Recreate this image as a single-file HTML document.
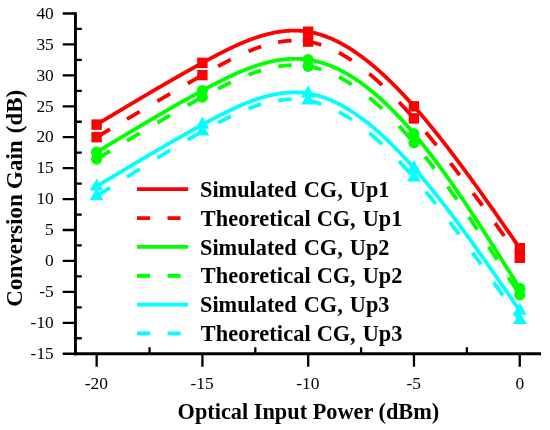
<!DOCTYPE html>
<html><head><meta charset="utf-8"><title>Conversion Gain vs Optical Input Power</title>
<style>html,body{margin:0;padding:0;background:#fff}svg{display:block}</style></head>
<body>
<svg width="550" height="430" viewBox="0 0 550 430">
<rect width="550" height="430" fill="#fff"/>
<path d="M96.60,124.60 L97.31,124.18 L98.01,123.75 L98.72,123.33 L99.43,122.90 L100.13,122.48 L100.84,122.05 L101.55,121.63 L102.25,121.20 L102.96,120.78 L103.67,120.35 L104.37,119.93 L105.08,119.51 L105.78,119.08 L106.49,118.66 L107.20,118.23 L107.90,117.81 L108.61,117.38 L109.32,116.96 L110.02,116.54 L110.73,116.11 L111.44,115.69 L112.14,115.26 L112.85,114.84 L113.56,114.42 L114.26,113.99 L114.97,113.57 L115.68,113.15 L116.38,112.72 L117.09,112.30 L117.80,111.88 L118.50,111.45 L119.21,111.03 L119.91,110.61 L120.62,110.18 L121.33,109.76 L122.03,109.34 L122.74,108.92 L123.45,108.49 L124.15,108.07 L124.86,107.65 L125.57,107.23 L126.27,106.81 L126.98,106.39 L127.69,105.96 L128.39,105.54 L129.10,105.12 L129.81,104.70 L130.51,104.28 L131.22,103.86 L131.93,103.44 L132.63,103.02 L133.34,102.60 L134.05,102.18 L134.75,101.76 L135.46,101.34 L136.16,100.92 L136.87,100.50 L137.58,100.08 L138.28,99.66 L138.99,99.24 L139.70,98.82 L140.40,98.40 L141.11,97.99 L141.82,97.57 L142.52,97.15 L143.23,96.73 L143.94,96.32 L144.64,95.90 L145.35,95.48 L146.06,95.06 L146.76,94.65 L147.47,94.23 L148.18,93.82 L148.88,93.40 L149.59,92.98 L150.29,92.57 L151.00,92.15 L151.71,91.74 L152.41,91.33 L153.12,90.91 L153.83,90.50 L154.53,90.08 L155.24,89.67 L155.95,89.26 L156.65,88.84 L157.36,88.43 L158.07,88.02 L158.77,87.61 L159.48,87.19 L160.19,86.78 L160.89,86.37 L161.60,85.96 L162.31,85.55 L163.01,85.14 L163.72,84.73 L164.43,84.32 L165.13,83.91 L165.84,83.50 L166.54,83.09 L167.25,82.69 L167.96,82.28 L168.66,81.87 L169.37,81.46 L170.08,81.06 L170.78,80.65 L171.49,80.24 L172.20,79.84 L172.90,79.43 L173.61,79.03 L174.32,78.62 L175.02,78.22 L175.73,77.81 L176.44,77.41 L177.14,77.00 L177.85,76.60 L178.56,76.20 L179.26,75.80 L179.97,75.39 L180.67,74.99 L181.38,74.59 L182.09,74.19 L182.79,73.79 L183.50,73.39 L184.21,72.99 L184.91,72.59 L185.62,72.19 L186.33,71.79 L187.03,71.40 L187.74,71.00 L188.45,70.60 L189.15,70.20 L189.86,69.81 L190.57,69.41 L191.27,69.02 L191.98,68.62 L192.69,68.23 L193.39,67.83 L194.10,67.44 L194.81,67.05 L195.51,66.65 L196.22,66.26 L196.92,65.87 L197.63,65.48 L198.34,65.09 L199.04,64.70 L199.75,64.31 L200.46,63.92 L201.16,63.53 L201.87,63.14 L202.58,62.75 L203.28,62.37 L203.99,61.98 L204.70,61.59 L205.40,61.21 L206.11,60.82 L206.82,60.44 L207.52,60.05 L208.23,59.67 L208.94,59.29 L209.64,58.91 L210.35,58.53 L211.05,58.15 L211.76,57.77 L212.47,57.39 L213.17,57.02 L213.88,56.64 L214.59,56.27 L215.29,55.89 L216.00,55.52 L216.71,55.15 L217.41,54.78 L218.12,54.41 L218.83,54.05 L219.53,53.68 L220.24,53.32 L220.95,52.95 L221.65,52.59 L222.36,52.23 L223.07,51.88 L223.77,51.52 L224.48,51.16 L225.18,50.81 L225.89,50.46 L226.60,50.11 L227.30,49.76 L228.01,49.42 L228.72,49.07 L229.42,48.73 L230.13,48.39 L230.84,48.05 L231.54,47.72 L232.25,47.38 L232.96,47.05 L233.66,46.72 L234.37,46.39 L235.08,46.07 L235.78,45.75 L236.49,45.43 L237.20,45.11 L237.90,44.79 L238.61,44.48 L239.32,44.17 L240.02,43.86 L240.73,43.55 L241.43,43.25 L242.14,42.95 L242.85,42.65 L243.55,42.35 L244.26,42.06 L244.97,41.77 L245.67,41.48 L246.38,41.20 L247.09,40.92 L247.79,40.64 L248.50,40.36 L249.21,40.09 L249.91,39.82 L250.62,39.55 L251.33,39.29 L252.03,39.03 L252.74,38.77 L253.45,38.52 L254.15,38.27 L254.86,38.02 L255.56,37.78 L256.27,37.54 L256.98,37.30 L257.68,37.06 L258.39,36.83 L259.10,36.61 L259.80,36.38 L260.51,36.16 L261.22,35.95 L261.92,35.74 L262.63,35.53 L263.34,35.32 L264.04,35.12 L264.75,34.92 L265.46,34.73 L266.16,34.54 L266.87,34.35 L267.58,34.17 L268.28,34.00 L268.99,33.82 L269.70,33.65 L270.40,33.49 L271.11,33.33 L271.81,33.17 L272.52,33.02 L273.23,32.87 L273.93,32.72 L274.64,32.59 L275.35,32.45 L276.05,32.32 L276.76,32.19 L277.47,32.07 L278.17,31.95 L278.88,31.84 L279.59,31.73 L280.29,31.63 L281.00,31.53 L281.71,31.44 L282.41,31.35 L283.12,31.27 L283.83,31.19 L284.53,31.11 L285.24,31.04 L285.94,30.98 L286.65,30.92 L287.36,30.86 L288.06,30.81 L288.77,30.77 L289.48,30.73 L290.18,30.70 L290.89,30.67 L291.60,30.65 L292.30,30.63 L293.01,30.62 L293.72,30.61 L294.42,30.61 L295.13,30.61 L295.84,30.62 L296.54,30.63 L297.25,30.65 L297.96,30.68 L298.66,30.71 L299.37,30.75 L300.08,30.79 L300.78,30.84 L301.49,30.90 L302.19,30.96 L302.90,31.02 L303.61,31.10 L304.31,31.18 L305.02,31.26 L305.73,31.35 L306.43,31.45 L307.14,31.55 L307.85,31.66 L308.55,31.77 L309.26,31.90 L309.97,32.02 L310.67,32.16 L311.38,32.30 L312.09,32.44 L312.79,32.60 L313.50,32.75 L314.21,32.92 L314.91,33.09 L315.62,33.26 L316.32,33.45 L317.03,33.63 L317.74,33.83 L318.44,34.03 L319.15,34.24 L319.86,34.45 L320.56,34.66 L321.27,34.89 L321.98,35.12 L322.68,35.35 L323.39,35.59 L324.10,35.84 L324.80,36.09 L325.51,36.35 L326.22,36.61 L326.92,36.88 L327.63,37.16 L328.34,37.44 L329.04,37.73 L329.75,38.02 L330.46,38.32 L331.16,38.62 L331.87,38.93 L332.57,39.24 L333.28,39.56 L333.99,39.89 L334.69,40.22 L335.40,40.55 L336.11,40.89 L336.81,41.24 L337.52,41.59 L338.23,41.95 L338.93,42.31 L339.64,42.68 L340.35,43.05 L341.05,43.43 L341.76,43.81 L342.47,44.20 L343.17,44.59 L343.88,44.99 L344.59,45.40 L345.29,45.81 L346.00,46.22 L346.70,46.64 L347.41,47.06 L348.12,47.49 L348.82,47.93 L349.53,48.36 L350.24,48.81 L350.94,49.26 L351.65,49.71 L352.36,50.17 L353.06,50.63 L353.77,51.10 L354.48,51.57 L355.18,52.05 L355.89,52.53 L356.60,53.02 L357.30,53.51 L358.01,54.01 L358.72,54.51 L359.42,55.02 L360.13,55.53 L360.84,56.04 L361.54,56.56 L362.25,57.09 L362.95,57.62 L363.66,58.15 L364.37,58.69 L365.07,59.23 L365.78,59.78 L366.49,60.33 L367.19,60.89 L367.90,61.45 L368.61,62.01 L369.31,62.58 L370.02,63.15 L370.73,63.73 L371.43,64.31 L372.14,64.90 L372.85,65.49 L373.55,66.08 L374.26,66.68 L374.97,67.28 L375.67,67.89 L376.38,68.50 L377.08,69.12 L377.79,69.74 L378.50,70.36 L379.20,70.99 L379.91,71.62 L380.62,72.25 L381.32,72.89 L382.03,73.54 L382.74,74.18 L383.44,74.83 L384.15,75.49 L384.86,76.15 L385.56,76.81 L386.27,77.48 L386.98,78.15 L387.68,78.82 L388.39,79.50 L389.10,80.18 L389.80,80.87 L390.51,81.56 L391.22,82.25 L391.92,82.94 L392.63,83.64 L393.33,84.35 L394.04,85.05 L394.75,85.76 L395.45,86.48 L396.16,87.20 L396.87,87.92 L397.57,88.64 L398.28,89.37 L398.99,90.10 L399.69,90.84 L400.40,91.57 L401.11,92.32 L401.81,93.06 L402.52,93.81 L403.23,94.56 L403.93,95.32 L404.64,96.07 L405.35,96.83 L406.05,97.60 L406.76,98.37 L407.46,99.14 L408.17,99.91 L408.88,100.69 L409.58,101.47 L410.29,102.25 L411.00,103.04 L411.70,103.83 L412.41,104.62 L413.12,105.42 L413.82,106.21 L414.53,107.01 L415.24,107.82 L415.94,108.63 L416.65,109.44 L417.36,110.25 L418.06,111.06 L418.77,111.88 L419.48,112.70 L420.18,113.53 L420.89,114.35 L421.59,115.18 L422.30,116.02 L423.01,116.85 L423.71,117.69 L424.42,118.53 L425.13,119.37 L425.83,120.22 L426.54,121.06 L427.25,121.92 L427.95,122.77 L428.66,123.62 L429.37,124.48 L430.07,125.34 L430.78,126.21 L431.49,127.07 L432.19,127.94 L432.90,128.81 L433.61,129.68 L434.31,130.56 L435.02,131.44 L435.73,132.32 L436.43,133.20 L437.14,134.09 L437.84,134.97 L438.55,135.86 L439.26,136.75 L439.96,137.65 L440.67,138.54 L441.38,139.44 L442.08,140.34 L442.79,141.24 L443.50,142.15 L444.20,143.06 L444.91,143.97 L445.62,144.88 L446.32,145.79 L447.03,146.70 L447.74,147.62 L448.44,148.54 L449.15,149.46 L449.86,150.38 L450.56,151.31 L451.27,152.24 L451.97,153.17 L452.68,154.10 L453.39,155.03 L454.09,155.96 L454.80,156.90 L455.51,157.84 L456.21,158.78 L456.92,159.72 L457.63,160.66 L458.33,161.61 L459.04,162.55 L459.75,163.50 L460.45,164.45 L461.16,165.40 L461.87,166.36 L462.57,167.31 L463.28,168.27 L463.99,169.23 L464.69,170.19 L465.40,171.15 L466.11,172.11 L466.81,173.08 L467.52,174.04 L468.22,175.01 L468.93,175.98 L469.64,176.95 L470.34,177.92 L471.05,178.89 L471.76,179.86 L472.46,180.84 L473.17,181.82 L473.88,182.79 L474.58,183.77 L475.29,184.75 L476.00,185.74 L476.70,186.72 L477.41,187.70 L478.12,188.69 L478.82,189.68 L479.53,190.66 L480.24,191.65 L480.94,192.64 L481.65,193.63 L482.35,194.62 L483.06,195.62 L483.77,196.61 L484.47,197.61 L485.18,198.60 L485.89,199.60 L486.59,200.60 L487.30,201.60 L488.01,202.60 L488.71,203.60 L489.42,204.60 L490.13,205.60 L490.83,206.60 L491.54,207.61 L492.25,208.61 L492.95,209.62 L493.66,210.62 L494.37,211.63 L495.07,212.64 L495.78,213.65 L496.49,214.66 L497.19,215.67 L497.90,216.68 L498.60,217.69 L499.31,218.70 L500.02,219.71 L500.72,220.72 L501.43,221.74 L502.14,222.75 L502.84,223.76 L503.55,224.78 L504.26,225.79 L504.96,226.81 L505.67,227.83 L506.38,228.84 L507.08,229.86 L507.79,230.88 L508.50,231.89 L509.20,232.91 L509.91,233.93 L510.62,234.95 L511.32,235.97 L512.03,236.98 L512.73,238.00 L513.44,239.02 L514.15,240.04 L514.85,241.06 L515.56,242.08 L516.27,243.10 L516.97,244.12 L517.68,245.14 L518.39,246.16 L519.09,247.18 L519.80,248.20" fill="none" stroke="#ff0000" stroke-width="3.8"/>
<path d="M96.60,137.20 L97.31,136.78 L98.01,136.36 L98.72,135.94 L99.43,135.52 L100.13,135.10 L100.84,134.68 L101.55,134.26 L102.25,133.84 L102.96,133.41 L103.67,132.99 L104.37,132.57 L105.08,132.15 L105.78,131.73 L106.49,131.31 L107.20,130.89 L107.90,130.47 L108.61,130.05 L109.32,129.63 L110.02,129.21 M126.98,119.13 L127.69,118.71 L128.39,118.30 L129.10,117.88 L129.81,117.46 L130.51,117.04 L131.22,116.62 L131.93,116.20 L132.63,115.78 L133.34,115.36 L134.05,114.95 L134.75,114.53 L135.46,114.11 L136.16,113.69 L136.87,113.27 L137.58,112.85 L138.28,112.44 L138.99,112.02 L139.70,111.60 M157.36,101.19 L158.07,100.78 L158.77,100.36 L159.48,99.95 L160.19,99.54 L160.89,99.12 L161.60,98.71 L162.31,98.29 L163.01,97.88 L163.72,97.47 L164.43,97.05 L165.13,96.64 L165.84,96.23 L166.54,95.81 L167.25,95.40 L167.96,94.99 L168.66,94.58 L169.37,94.16 L170.08,93.75 M187.74,83.51 L188.45,83.10 L189.15,82.69 L189.86,82.29 L190.57,81.88 L191.27,81.47 L191.98,81.07 L192.69,80.66 L193.39,80.25 L194.10,79.85 L194.81,79.44 L195.51,79.04 L196.22,78.63 L196.92,78.23 L197.63,77.82 L198.34,77.42 L199.04,77.02 L199.75,76.61 L200.46,76.21 M218.12,66.28 L218.83,65.89 L219.53,65.50 L220.24,65.12 L220.95,64.74 L221.65,64.36 L222.36,63.98 L223.07,63.60 L223.77,63.22 L224.48,62.85 L225.18,62.47 L225.89,62.10 L226.60,61.73 L227.30,61.36 L228.01,61.00 L228.72,60.63 L229.42,60.27 L230.13,59.91 L230.84,59.55 M248.50,51.32 L249.21,51.03 L249.91,50.74 L250.62,50.45 L251.33,50.17 L252.03,49.89 L252.74,49.61 L253.45,49.33 L254.15,49.06 L254.86,48.79 L255.56,48.53 L256.27,48.27 L256.98,48.01 L257.68,47.76 L258.39,47.51 L259.10,47.26 L259.80,47.02 L260.51,46.78 L261.22,46.54 M278.17,42.15 L278.88,42.02 L279.59,41.90 L280.29,41.78 L281.00,41.67 L281.71,41.56 L282.41,41.46 L283.12,41.37 L283.83,41.27 L284.53,41.19 L285.24,41.11 L285.94,41.03 L286.65,40.96 L287.36,40.90 L288.06,40.84 L288.77,40.78 L289.48,40.74 L290.18,40.69 L290.89,40.66 L291.60,40.62 M308.55,41.68 L309.26,41.80 L309.97,41.93 L310.67,42.07 L311.38,42.21 L312.09,42.36 L312.79,42.52 L313.50,42.68 L314.21,42.85 L314.91,43.03 L315.62,43.21 L316.32,43.40 L317.03,43.59 L317.74,43.79 L318.44,44.00 L319.15,44.22 L319.86,44.44 L320.56,44.66 L321.27,44.90 M338.93,52.65 L339.64,53.04 L340.35,53.43 L341.05,53.82 L341.76,54.23 L342.47,54.63 L343.17,55.04 L343.88,55.46 L344.59,55.88 L345.29,56.31 L346.00,56.74 L346.70,57.18 L347.41,57.62 L348.12,58.07 L348.82,58.52 L349.53,58.98 L350.24,59.44 L350.94,59.91 L351.65,60.38 M369.31,73.76 L370.02,74.35 L370.73,74.95 L371.43,75.55 L372.14,76.16 L372.85,76.77 L373.55,77.38 L374.26,78.00 L374.97,78.62 L375.67,79.25 L376.38,79.88 L377.08,80.51 L377.79,81.15 L378.50,81.79 L379.20,82.44 L379.91,83.09 L380.62,83.74 L381.32,84.40 L382.03,85.06 M398.99,102.01 L399.69,102.76 L400.40,103.51 L401.11,104.26 L401.81,105.02 L402.52,105.78 L403.23,106.54 L403.93,107.31 L404.64,108.07 L405.35,108.84 L406.05,109.62 L406.76,110.40 L407.46,111.18 L408.17,111.96 L408.88,112.74 L409.58,113.53 L410.29,114.32 L411.00,115.11 M425.83,132.34 L426.54,133.19 L427.25,134.03 L427.95,134.89 L428.66,135.74 L429.37,136.59 L430.07,137.45 L430.78,138.31 L431.49,139.17 L432.19,140.03 L432.90,140.90 L433.61,141.76 L434.31,142.63 L435.02,143.51 L435.73,144.38 L436.43,145.25 M450.56,163.15 L451.27,164.06 L451.97,164.98 L452.68,165.90 L453.39,166.81 L454.09,167.73 L454.80,168.65 L455.51,169.58 L456.21,170.50 L456.92,171.43 L457.63,172.35 L458.33,173.28 L459.04,174.21 L459.75,175.14 M473.17,193.09 L473.88,194.05 L474.58,195.01 L475.29,195.97 L476.00,196.93 L476.70,197.89 L477.41,198.85 L478.12,199.81 L478.82,200.78 L479.53,201.74 L480.24,202.71 L480.94,203.67 L481.65,204.64 L482.35,205.61 M495.07,223.18 L495.78,224.16 L496.49,225.15 L497.19,226.13 L497.90,227.11 L498.60,228.10 L499.31,229.08 L500.02,230.07 L500.72,231.06 L501.43,232.04 L502.14,233.03 L502.84,234.02 L503.55,235.01 L504.26,235.99 M516.97,253.83 L517.68,254.82 L518.39,255.81 L519.09,256.81 L519.80,257.80" fill="none" stroke="#ff0000" stroke-width="3.8"/>
<path d="M96.60,152.20 L97.31,151.77 L98.01,151.35 L98.72,150.92 L99.43,150.49 L100.13,150.07 L100.84,149.64 L101.55,149.22 L102.25,148.79 L102.96,148.36 L103.67,147.94 L104.37,147.51 L105.08,147.08 L105.78,146.66 L106.49,146.23 L107.20,145.81 L107.90,145.38 L108.61,144.95 L109.32,144.53 L110.02,144.10 L110.73,143.68 L111.44,143.25 L112.14,142.83 L112.85,142.40 L113.56,141.98 L114.26,141.55 L114.97,141.13 L115.68,140.70 L116.38,140.28 L117.09,139.85 L117.80,139.43 L118.50,139.00 L119.21,138.58 L119.91,138.15 L120.62,137.73 L121.33,137.30 L122.03,136.88 L122.74,136.46 L123.45,136.03 L124.15,135.61 L124.86,135.19 L125.57,134.76 L126.27,134.34 L126.98,133.92 L127.69,133.49 L128.39,133.07 L129.10,132.65 L129.81,132.23 L130.51,131.81 L131.22,131.38 L131.93,130.96 L132.63,130.54 L133.34,130.12 L134.05,129.70 L134.75,129.28 L135.46,128.86 L136.16,128.44 L136.87,128.02 L137.58,127.60 L138.28,127.18 L138.99,126.76 L139.70,126.34 L140.40,125.92 L141.11,125.50 L141.82,125.08 L142.52,124.66 L143.23,124.25 L143.94,123.83 L144.64,123.41 L145.35,122.99 L146.06,122.58 L146.76,122.16 L147.47,121.74 L148.18,121.33 L148.88,120.91 L149.59,120.50 L150.29,120.08 L151.00,119.67 L151.71,119.25 L152.41,118.84 L153.12,118.42 L153.83,118.01 L154.53,117.60 L155.24,117.18 L155.95,116.77 L156.65,116.36 L157.36,115.95 L158.07,115.54 L158.77,115.12 L159.48,114.71 L160.19,114.30 L160.89,113.89 L161.60,113.48 L162.31,113.07 L163.01,112.66 L163.72,112.25 L164.43,111.85 L165.13,111.44 L165.84,111.03 L166.54,110.62 L167.25,110.22 L167.96,109.81 L168.66,109.40 L169.37,109.00 L170.08,108.59 L170.78,108.19 L171.49,107.78 L172.20,107.38 L172.90,106.98 L173.61,106.57 L174.32,106.17 L175.02,105.77 L175.73,105.37 L176.44,104.96 L177.14,104.56 L177.85,104.16 L178.56,103.76 L179.26,103.36 L179.97,102.96 L180.67,102.56 L181.38,102.17 L182.09,101.77 L182.79,101.37 L183.50,100.97 L184.21,100.58 L184.91,100.18 L185.62,99.79 L186.33,99.39 L187.03,99.00 L187.74,98.60 L188.45,98.21 L189.15,97.82 L189.86,97.42 L190.57,97.03 L191.27,96.64 L191.98,96.25 L192.69,95.86 L193.39,95.47 L194.10,95.08 L194.81,94.69 L195.51,94.30 L196.22,93.92 L196.92,93.53 L197.63,93.14 L198.34,92.76 L199.04,92.37 L199.75,91.99 L200.46,91.60 L201.16,91.22 L201.87,90.84 L202.58,90.45 L203.28,90.07 L203.99,89.69 L204.70,89.31 L205.40,88.93 L206.11,88.55 L206.82,88.17 L207.52,87.80 L208.23,87.42 L208.94,87.04 L209.64,86.67 L210.35,86.30 L211.05,85.92 L211.76,85.55 L212.47,85.18 L213.17,84.81 L213.88,84.44 L214.59,84.07 L215.29,83.71 L216.00,83.34 L216.71,82.98 L217.41,82.62 L218.12,82.26 L218.83,81.90 L219.53,81.54 L220.24,81.18 L220.95,80.83 L221.65,80.47 L222.36,80.12 L223.07,79.77 L223.77,79.42 L224.48,79.07 L225.18,78.73 L225.89,78.38 L226.60,78.04 L227.30,77.70 L228.01,77.36 L228.72,77.02 L229.42,76.69 L230.13,76.36 L230.84,76.03 L231.54,75.70 L232.25,75.37 L232.96,75.05 L233.66,74.72 L234.37,74.40 L235.08,74.08 L235.78,73.77 L236.49,73.45 L237.20,73.14 L237.90,72.83 L238.61,72.53 L239.32,72.22 L240.02,71.92 L240.73,71.62 L241.43,71.32 L242.14,71.03 L242.85,70.74 L243.55,70.45 L244.26,70.16 L244.97,69.88 L245.67,69.60 L246.38,69.32 L247.09,69.04 L247.79,68.77 L248.50,68.50 L249.21,68.23 L249.91,67.97 L250.62,67.71 L251.33,67.45 L252.03,67.19 L252.74,66.94 L253.45,66.69 L254.15,66.45 L254.86,66.21 L255.56,65.97 L256.27,65.73 L256.98,65.50 L257.68,65.27 L258.39,65.04 L259.10,64.82 L259.80,64.60 L260.51,64.38 L261.22,64.17 L261.92,63.96 L262.63,63.76 L263.34,63.56 L264.04,63.36 L264.75,63.16 L265.46,62.97 L266.16,62.79 L266.87,62.60 L267.58,62.42 L268.28,62.25 L268.99,62.08 L269.70,61.91 L270.40,61.74 L271.11,61.58 L271.81,61.43 L272.52,61.28 L273.23,61.13 L273.93,60.99 L274.64,60.85 L275.35,60.71 L276.05,60.58 L276.76,60.46 L277.47,60.33 L278.17,60.22 L278.88,60.10 L279.59,59.99 L280.29,59.89 L281.00,59.79 L281.71,59.69 L282.41,59.60 L283.12,59.52 L283.83,59.43 L284.53,59.36 L285.24,59.28 L285.94,59.22 L286.65,59.15 L287.36,59.10 L288.06,59.04 L288.77,58.99 L289.48,58.95 L290.18,58.91 L290.89,58.88 L291.60,58.85 L292.30,58.83 L293.01,58.81 L293.72,58.80 L294.42,58.79 L295.13,58.79 L295.84,58.79 L296.54,58.80 L297.25,58.81 L297.96,58.83 L298.66,58.85 L299.37,58.88 L300.08,58.91 L300.78,58.95 L301.49,59.00 L302.19,59.05 L302.90,59.11 L303.61,59.17 L304.31,59.24 L305.02,59.31 L305.73,59.39 L306.43,59.48 L307.14,59.57 L307.85,59.66 L308.55,59.77 L309.26,59.88 L309.97,59.99 L310.67,60.11 L311.38,60.24 L312.09,60.37 L312.79,60.51 L313.50,60.65 L314.21,60.80 L314.91,60.95 L315.62,61.11 L316.32,61.28 L317.03,61.45 L317.74,61.63 L318.44,61.81 L319.15,62.00 L319.86,62.20 L320.56,62.40 L321.27,62.61 L321.98,62.82 L322.68,63.04 L323.39,63.26 L324.10,63.49 L324.80,63.72 L325.51,63.96 L326.22,64.21 L326.92,64.46 L327.63,64.72 L328.34,64.98 L329.04,65.25 L329.75,65.52 L330.46,65.80 L331.16,66.08 L331.87,66.37 L332.57,66.67 L333.28,66.97 L333.99,67.27 L334.69,67.58 L335.40,67.90 L336.11,68.22 L336.81,68.55 L337.52,68.88 L338.23,69.22 L338.93,69.56 L339.64,69.91 L340.35,70.27 L341.05,70.63 L341.76,70.99 L342.47,71.36 L343.17,71.74 L343.88,72.12 L344.59,72.50 L345.29,72.89 L346.00,73.29 L346.70,73.69 L347.41,74.10 L348.12,74.51 L348.82,74.92 L349.53,75.35 L350.24,75.77 L350.94,76.20 L351.65,76.64 L352.36,77.08 L353.06,77.53 L353.77,77.98 L354.48,78.44 L355.18,78.90 L355.89,79.37 L356.60,79.84 L357.30,80.32 L358.01,80.80 L358.72,81.29 L359.42,81.78 L360.13,82.28 L360.84,82.78 L361.54,83.29 L362.25,83.80 L362.95,84.32 L363.66,84.84 L364.37,85.36 L365.07,85.90 L365.78,86.43 L366.49,86.97 L367.19,87.52 L367.90,88.07 L368.61,88.63 L369.31,89.19 L370.02,89.75 L370.73,90.32 L371.43,90.89 L372.14,91.47 L372.85,92.06 L373.55,92.65 L374.26,93.24 L374.97,93.84 L375.67,94.44 L376.38,95.05 L377.08,95.66 L377.79,96.27 L378.50,96.89 L379.20,97.52 L379.91,98.15 L380.62,98.78 L381.32,99.42 L382.03,100.07 L382.74,100.72 L383.44,101.37 L384.15,102.03 L384.86,102.69 L385.56,103.35 L386.27,104.02 L386.98,104.70 L387.68,105.38 L388.39,106.06 L389.10,106.75 L389.80,107.44 L390.51,108.14 L391.22,108.84 L391.92,109.55 L392.63,110.26 L393.33,110.97 L394.04,111.69 L394.75,112.41 L395.45,113.14 L396.16,113.87 L396.87,114.61 L397.57,115.35 L398.28,116.09 L398.99,116.84 L399.69,117.59 L400.40,118.35 L401.11,119.11 L401.81,119.88 L402.52,120.65 L403.23,121.42 L403.93,122.20 L404.64,122.98 L405.35,123.76 L406.05,124.55 L406.76,125.35 L407.46,126.15 L408.17,126.95 L408.88,127.75 L409.58,128.56 L410.29,129.38 L411.00,130.20 L411.70,131.02 L412.41,131.85 L413.12,132.68 L413.82,133.51 L414.53,134.35 L415.24,135.19 L415.94,136.03 L416.65,136.88 L417.36,137.74 L418.06,138.60 L418.77,139.46 L419.48,140.32 L420.18,141.19 L420.89,142.06 L421.59,142.94 L422.30,143.82 L423.01,144.70 L423.71,145.59 L424.42,146.48 L425.13,147.37 L425.83,148.27 L426.54,149.17 L427.25,150.07 L427.95,150.98 L428.66,151.89 L429.37,152.81 L430.07,153.72 L430.78,154.65 L431.49,155.57 L432.19,156.50 L432.90,157.43 L433.61,158.36 L434.31,159.30 L435.02,160.24 L435.73,161.18 L436.43,162.13 L437.14,163.08 L437.84,164.03 L438.55,164.99 L439.26,165.95 L439.96,166.91 L440.67,167.88 L441.38,168.84 L442.08,169.82 L442.79,170.79 L443.50,171.77 L444.20,172.75 L444.91,173.73 L445.62,174.71 L446.32,175.70 L447.03,176.69 L447.74,177.68 L448.44,178.68 L449.15,179.68 L449.86,180.68 L450.56,181.68 L451.27,182.69 L451.97,183.70 L452.68,184.71 L453.39,185.72 L454.09,186.74 L454.80,187.76 L455.51,188.78 L456.21,189.80 L456.92,190.83 L457.63,191.86 L458.33,192.89 L459.04,193.92 L459.75,194.96 L460.45,195.99 L461.16,197.03 L461.87,198.07 L462.57,199.12 L463.28,200.16 L463.99,201.21 L464.69,202.26 L465.40,203.31 L466.11,204.37 L466.81,205.43 L467.52,206.48 L468.22,207.54 L468.93,208.61 L469.64,209.67 L470.34,210.74 L471.05,211.80 L471.76,212.87 L472.46,213.94 L473.17,215.02 L473.88,216.09 L474.58,217.17 L475.29,218.25 L476.00,219.33 L476.70,220.41 L477.41,221.49 L478.12,222.57 L478.82,223.66 L479.53,224.75 L480.24,225.84 L480.94,226.93 L481.65,228.02 L482.35,229.11 L483.06,230.21 L483.77,231.30 L484.47,232.40 L485.18,233.50 L485.89,234.60 L486.59,235.70 L487.30,236.80 L488.01,237.91 L488.71,239.01 L489.42,240.12 L490.13,241.23 L490.83,242.33 L491.54,243.44 L492.25,244.55 L492.95,245.67 L493.66,246.78 L494.37,247.89 L495.07,249.01 L495.78,250.12 L496.49,251.24 L497.19,252.35 L497.90,253.47 L498.60,254.59 L499.31,255.71 L500.02,256.83 L500.72,257.95 L501.43,259.07 L502.14,260.20 L502.84,261.32 L503.55,262.44 L504.26,263.57 L504.96,264.69 L505.67,265.82 L506.38,266.94 L507.08,268.07 L507.79,269.20 L508.50,270.32 L509.20,271.45 L509.91,272.58 L510.62,273.71 L511.32,274.84 L512.03,275.97 L512.73,277.10 L513.44,278.23 L514.15,279.35 L514.85,280.49 L515.56,281.62 L516.27,282.75 L516.97,283.88 L517.68,285.01 L518.39,286.14 L519.09,287.27 L519.80,288.40" fill="none" stroke="#00ff00" stroke-width="3.8"/>
<path d="M96.60,159.10 L97.31,158.67 L98.01,158.25 L98.72,157.82 L99.43,157.39 L100.13,156.97 L100.84,156.54 L101.55,156.11 L102.25,155.68 L102.96,155.26 L103.67,154.83 L104.37,154.40 L105.08,153.98 L105.78,153.55 L106.49,153.12 L107.20,152.70 L107.90,152.27 L108.61,151.84 L109.32,151.42 L110.02,150.99 M126.98,140.79 L127.69,140.36 L128.39,139.94 L129.10,139.52 L129.81,139.09 L130.51,138.67 L131.22,138.25 L131.93,137.82 L132.63,137.40 L133.34,136.98 L134.05,136.56 L134.75,136.14 L135.46,135.71 L136.16,135.29 L136.87,134.87 L137.58,134.45 L138.28,134.03 L138.99,133.61 L139.70,133.19 M157.36,122.76 L158.07,122.34 L158.77,121.93 L159.48,121.52 L160.19,121.10 L160.89,120.69 L161.60,120.28 L162.31,119.87 L163.01,119.46 L163.72,119.04 L164.43,118.63 L165.13,118.22 L165.84,117.81 L166.54,117.40 L167.25,116.99 L167.96,116.58 L168.66,116.18 L169.37,115.77 L170.08,115.36 M187.74,105.29 L188.45,104.89 L189.15,104.50 L189.86,104.10 L190.57,103.71 L191.27,103.31 L191.98,102.92 L192.69,102.52 L193.39,102.13 L194.10,101.73 L194.81,101.34 L195.51,100.95 L196.22,100.56 L196.92,100.17 L197.63,99.77 L198.34,99.38 L199.04,98.99 L199.75,98.61 L200.46,98.22 M218.12,88.74 L218.83,88.37 L219.53,88.01 L220.24,87.65 L220.95,87.29 L221.65,86.93 L222.36,86.57 L223.07,86.21 L223.77,85.86 L224.48,85.51 L225.18,85.16 L225.89,84.81 L226.60,84.46 L227.30,84.11 L228.01,83.77 L228.72,83.43 L229.42,83.09 L230.13,82.75 L230.84,82.41 M248.50,74.78 L249.21,74.51 L249.91,74.24 L250.62,73.98 L251.33,73.72 L252.03,73.46 L252.74,73.20 L253.45,72.95 L254.15,72.70 L254.86,72.46 L255.56,72.22 L256.27,71.98 L256.98,71.74 L257.68,71.51 L258.39,71.28 L259.10,71.06 L259.80,70.84 L260.51,70.62 L261.22,70.41 M278.17,66.47 L278.88,66.36 L279.59,66.26 L280.29,66.16 L281.00,66.06 L281.71,65.97 L282.41,65.88 L283.12,65.80 L283.83,65.72 L284.53,65.65 L285.24,65.58 L285.94,65.52 L286.65,65.46 L287.36,65.41 L288.06,65.36 L288.77,65.32 L289.48,65.29 L290.18,65.25 L290.89,65.23 L291.60,65.21 M308.55,66.38 L309.26,66.50 L309.97,66.63 L310.67,66.76 L311.38,66.90 L312.09,67.05 L312.79,67.20 L313.50,67.36 L314.21,67.53 L314.91,67.70 L315.62,67.88 L316.32,68.06 L317.03,68.25 L317.74,68.45 L318.44,68.65 L319.15,68.85 L319.86,69.07 L320.56,69.29 L321.27,69.51 M338.93,76.99 L339.64,77.36 L340.35,77.74 L341.05,78.12 L341.76,78.51 L342.47,78.90 L343.17,79.30 L343.88,79.70 L344.59,80.11 L345.29,80.52 L346.00,80.94 L346.70,81.37 L347.41,81.80 L348.12,82.23 L348.82,82.67 L349.53,83.12 L350.24,83.57 L350.94,84.02 L351.65,84.48 M369.31,97.59 L370.02,98.18 L370.73,98.77 L371.43,99.36 L372.14,99.96 L372.85,100.57 L373.55,101.18 L374.26,101.79 L374.97,102.41 L375.67,103.03 L376.38,103.66 L377.08,104.29 L377.79,104.93 L378.50,105.57 L379.20,106.21 L379.91,106.86 L380.62,107.51 L381.32,108.17 L382.03,108.83 M398.99,125.98 L399.69,126.74 L400.40,127.51 L401.11,128.28 L401.81,129.06 L402.52,129.83 L403.23,130.62 L403.93,131.41 L404.64,132.20 L405.35,132.99 L406.05,133.79 L406.76,134.59 L407.46,135.40 L408.17,136.21 L408.88,137.02 L409.58,137.84 L410.29,138.66 M425.13,156.67 L425.83,157.57 L426.54,158.46 L427.25,159.36 L427.95,160.27 L428.66,161.17 L429.37,162.08 L430.07,162.99 L430.78,163.91 L431.49,164.83 L432.19,165.75 L432.90,166.67 L433.61,167.60 L434.31,168.53 M447.74,186.70 L448.44,187.68 L449.15,188.66 L449.86,189.65 L450.56,190.64 L451.27,191.63 L451.97,192.62 L452.68,193.61 L453.39,194.61 L454.09,195.61 L454.80,196.61 L455.51,197.62 L456.21,198.62 L456.92,199.63 M468.93,217.06 L469.64,218.11 L470.34,219.15 L471.05,220.19 L471.76,221.24 L472.46,222.29 L473.17,223.34 L473.88,224.39 L474.58,225.44 L475.29,226.50 L476.00,227.55 L476.70,228.61 L477.41,229.67 M488.71,246.78 L489.42,247.86 L490.13,248.94 L490.83,250.02 L491.54,251.10 L492.25,252.19 L492.95,253.27 L493.66,254.35 L494.37,255.44 L495.07,256.53 L495.78,257.61 L496.49,258.70 L497.19,259.79 M508.50,277.30 L509.20,278.40 L509.91,279.49 L510.62,280.59 L511.32,281.69 L512.03,282.79 L512.73,283.89 L513.44,284.99 L514.15,286.09 L514.85,287.19 L515.56,288.29 L516.27,289.39" fill="none" stroke="#00ff00" stroke-width="3.8"/>
<path d="M96.60,186.40 L97.31,185.98 L98.01,185.55 L98.72,185.13 L99.43,184.70 L100.13,184.28 L100.84,183.85 L101.55,183.43 L102.25,183.01 L102.96,182.58 L103.67,182.16 L104.37,181.73 L105.08,181.31 L105.78,180.89 L106.49,180.46 L107.20,180.04 L107.90,179.61 L108.61,179.19 L109.32,178.77 L110.02,178.34 L110.73,177.92 L111.44,177.50 L112.14,177.07 L112.85,176.65 L113.56,176.23 L114.26,175.80 L114.97,175.38 L115.68,174.96 L116.38,174.53 L117.09,174.11 L117.80,173.69 L118.50,173.27 L119.21,172.84 L119.91,172.42 L120.62,172.00 L121.33,171.58 L122.03,171.15 L122.74,170.73 L123.45,170.31 L124.15,169.89 L124.86,169.47 L125.57,169.04 L126.27,168.62 L126.98,168.20 L127.69,167.78 L128.39,167.36 L129.10,166.94 L129.81,166.52 L130.51,166.10 L131.22,165.68 L131.93,165.26 L132.63,164.84 L133.34,164.42 L134.05,164.00 L134.75,163.58 L135.46,163.16 L136.16,162.74 L136.87,162.32 L137.58,161.90 L138.28,161.48 L138.99,161.06 L139.70,160.65 L140.40,160.23 L141.11,159.81 L141.82,159.39 L142.52,158.97 L143.23,158.56 L143.94,158.14 L144.64,157.72 L145.35,157.31 L146.06,156.89 L146.76,156.47 L147.47,156.06 L148.18,155.64 L148.88,155.23 L149.59,154.81 L150.29,154.40 L151.00,153.98 L151.71,153.57 L152.41,153.15 L153.12,152.74 L153.83,152.33 L154.53,151.91 L155.24,151.50 L155.95,151.09 L156.65,150.67 L157.36,150.26 L158.07,149.85 L158.77,149.44 L159.48,149.03 L160.19,148.62 L160.89,148.21 L161.60,147.79 L162.31,147.38 L163.01,146.97 L163.72,146.57 L164.43,146.16 L165.13,145.75 L165.84,145.34 L166.54,144.93 L167.25,144.52 L167.96,144.11 L168.66,143.71 L169.37,143.30 L170.08,142.89 L170.78,142.49 L171.49,142.08 L172.20,141.67 L172.90,141.27 L173.61,140.86 L174.32,140.46 L175.02,140.06 L175.73,139.65 L176.44,139.25 L177.14,138.84 L177.85,138.44 L178.56,138.04 L179.26,137.64 L179.97,137.24 L180.67,136.83 L181.38,136.43 L182.09,136.03 L182.79,135.63 L183.50,135.23 L184.21,134.83 L184.91,134.43 L185.62,134.04 L186.33,133.64 L187.03,133.24 L187.74,132.84 L188.45,132.45 L189.15,132.05 L189.86,131.65 L190.57,131.26 L191.27,130.86 L191.98,130.47 L192.69,130.07 L193.39,129.68 L194.10,129.29 L194.81,128.89 L195.51,128.50 L196.22,128.11 L196.92,127.72 L197.63,127.33 L198.34,126.94 L199.04,126.55 L199.75,126.16 L200.46,125.77 L201.16,125.38 L201.87,124.99 L202.58,124.60 L203.28,124.22 L203.99,123.83 L204.70,123.44 L205.40,123.06 L206.11,122.67 L206.82,122.29 L207.52,121.91 L208.23,121.52 L208.94,121.14 L209.64,120.76 L210.35,120.38 L211.05,120.00 L211.76,119.62 L212.47,119.24 L213.17,118.87 L213.88,118.49 L214.59,118.12 L215.29,117.75 L216.00,117.37 L216.71,117.00 L217.41,116.63 L218.12,116.27 L218.83,115.90 L219.53,115.54 L220.24,115.17 L220.95,114.81 L221.65,114.45 L222.36,114.09 L223.07,113.73 L223.77,113.38 L224.48,113.02 L225.18,112.67 L225.89,112.32 L226.60,111.97 L227.30,111.62 L228.01,111.27 L228.72,110.93 L229.42,110.59 L230.13,110.25 L230.84,109.91 L231.54,109.57 L232.25,109.24 L232.96,108.91 L233.66,108.58 L234.37,108.25 L235.08,107.93 L235.78,107.60 L236.49,107.28 L237.20,106.96 L237.90,106.65 L238.61,106.33 L239.32,106.02 L240.02,105.71 L240.73,105.41 L241.43,105.11 L242.14,104.80 L242.85,104.51 L243.55,104.21 L244.26,103.92 L244.97,103.63 L245.67,103.34 L246.38,103.05 L247.09,102.77 L247.79,102.49 L248.50,102.22 L249.21,101.95 L249.91,101.68 L250.62,101.41 L251.33,101.15 L252.03,100.88 L252.74,100.63 L253.45,100.37 L254.15,100.12 L254.86,99.87 L255.56,99.63 L256.27,99.39 L256.98,99.15 L257.68,98.92 L258.39,98.69 L259.10,98.46 L259.80,98.24 L260.51,98.02 L261.22,97.80 L261.92,97.59 L262.63,97.38 L263.34,97.17 L264.04,96.97 L264.75,96.77 L265.46,96.58 L266.16,96.39 L266.87,96.20 L267.58,96.02 L268.28,95.84 L268.99,95.67 L269.70,95.50 L270.40,95.33 L271.11,95.17 L271.81,95.02 L272.52,94.86 L273.23,94.71 L273.93,94.57 L274.64,94.43 L275.35,94.29 L276.05,94.16 L276.76,94.04 L277.47,93.91 L278.17,93.80 L278.88,93.68 L279.59,93.57 L280.29,93.47 L281.00,93.37 L281.71,93.28 L282.41,93.19 L283.12,93.10 L283.83,93.02 L284.53,92.95 L285.24,92.88 L285.94,92.81 L286.65,92.75 L287.36,92.70 L288.06,92.65 L288.77,92.60 L289.48,92.56 L290.18,92.53 L290.89,92.50 L291.60,92.47 L292.30,92.45 L293.01,92.44 L293.72,92.43 L294.42,92.43 L295.13,92.43 L295.84,92.44 L296.54,92.45 L297.25,92.47 L297.96,92.50 L298.66,92.53 L299.37,92.57 L300.08,92.61 L300.78,92.66 L301.49,92.71 L302.19,92.77 L302.90,92.83 L303.61,92.91 L304.31,92.98 L305.02,93.07 L305.73,93.16 L306.43,93.25 L307.14,93.35 L307.85,93.46 L308.55,93.57 L309.26,93.69 L309.97,93.82 L310.67,93.95 L311.38,94.09 L312.09,94.24 L312.79,94.39 L313.50,94.54 L314.21,94.71 L314.91,94.87 L315.62,95.05 L316.32,95.23 L317.03,95.42 L317.74,95.61 L318.44,95.81 L319.15,96.01 L319.86,96.22 L320.56,96.44 L321.27,96.66 L321.98,96.89 L322.68,97.12 L323.39,97.36 L324.10,97.61 L324.80,97.86 L325.51,98.11 L326.22,98.38 L326.92,98.64 L327.63,98.92 L328.34,99.20 L329.04,99.48 L329.75,99.77 L330.46,100.07 L331.16,100.37 L331.87,100.68 L332.57,100.99 L333.28,101.31 L333.99,101.63 L334.69,101.96 L335.40,102.29 L336.11,102.63 L336.81,102.98 L337.52,103.33 L338.23,103.68 L338.93,104.04 L339.64,104.41 L340.35,104.78 L341.05,105.15 L341.76,105.54 L342.47,105.92 L343.17,106.32 L343.88,106.71 L344.59,107.11 L345.29,107.52 L346.00,107.93 L346.70,108.35 L347.41,108.77 L348.12,109.20 L348.82,109.63 L349.53,110.07 L350.24,110.51 L350.94,110.96 L351.65,111.41 L352.36,111.87 L353.06,112.33 L353.77,112.80 L354.48,113.27 L355.18,113.75 L355.89,114.23 L356.60,114.72 L357.30,115.21 L358.01,115.70 L358.72,116.20 L359.42,116.71 L360.13,117.22 L360.84,117.73 L361.54,118.25 L362.25,118.77 L362.95,119.30 L363.66,119.83 L364.37,120.37 L365.07,120.91 L365.78,121.46 L366.49,122.01 L367.19,122.56 L367.90,123.12 L368.61,123.68 L369.31,124.25 L370.02,124.82 L370.73,125.40 L371.43,125.98 L372.14,126.57 L372.85,127.16 L373.55,127.75 L374.26,128.35 L374.97,128.95 L375.67,129.56 L376.38,130.17 L377.08,130.78 L377.79,131.40 L378.50,132.02 L379.20,132.65 L379.91,133.28 L380.62,133.92 L381.32,134.56 L382.03,135.20 L382.74,135.85 L383.44,136.50 L384.15,137.15 L384.86,137.81 L385.56,138.47 L386.27,139.14 L386.98,139.81 L387.68,140.48 L388.39,141.16 L389.10,141.84 L389.80,142.53 L390.51,143.22 L391.22,143.91 L391.92,144.61 L392.63,145.31 L393.33,146.01 L394.04,146.72 L394.75,147.43 L395.45,148.14 L396.16,148.86 L396.87,149.58 L397.57,150.31 L398.28,151.04 L398.99,151.77 L399.69,152.51 L400.40,153.25 L401.11,153.99 L401.81,154.73 L402.52,155.48 L403.23,156.24 L403.93,156.99 L404.64,157.75 L405.35,158.51 L406.05,159.28 L406.76,160.05 L407.46,160.82 L408.17,161.60 L408.88,162.38 L409.58,163.16 L410.29,163.94 L411.00,164.73 L411.70,165.52 L412.41,166.32 L413.12,167.11 L413.82,167.91 L414.53,168.72 L415.24,169.52 L415.94,170.33 L416.65,171.14 L417.36,171.96 L418.06,172.78 L418.77,173.60 L419.48,174.42 L420.18,175.25 L420.89,176.08 L421.59,176.91 L422.30,177.74 L423.01,178.58 L423.71,179.42 L424.42,180.27 L425.13,181.11 L425.83,181.96 L426.54,182.81 L427.25,183.67 L427.95,184.52 L428.66,185.38 L429.37,186.24 L430.07,187.11 L430.78,187.97 L431.49,188.84 L432.19,189.72 L432.90,190.59 L433.61,191.47 L434.31,192.35 L435.02,193.23 L435.73,194.11 L436.43,195.00 L437.14,195.89 L437.84,196.78 L438.55,197.67 L439.26,198.57 L439.96,199.46 L440.67,200.37 L441.38,201.27 L442.08,202.17 L442.79,203.08 L443.50,203.99 L444.20,204.90 L444.91,205.81 L445.62,206.73 L446.32,207.65 L447.03,208.57 L447.74,209.49 L448.44,210.41 L449.15,211.34 L449.86,212.27 L450.56,213.20 L451.27,214.13 L451.97,215.06 L452.68,216.00 L453.39,216.93 L454.09,217.87 L454.80,218.82 L455.51,219.76 L456.21,220.70 L456.92,221.65 L457.63,222.60 L458.33,223.55 L459.04,224.50 L459.75,225.46 L460.45,226.41 L461.16,227.37 L461.87,228.33 L462.57,229.29 L463.28,230.25 L463.99,231.21 L464.69,232.18 L465.40,233.15 L466.11,234.11 L466.81,235.08 L467.52,236.06 L468.22,237.03 L468.93,238.00 L469.64,238.98 L470.34,239.96 L471.05,240.93 L471.76,241.91 L472.46,242.90 L473.17,243.88 L473.88,244.86 L474.58,245.85 L475.29,246.83 L476.00,247.82 L476.70,248.81 L477.41,249.80 L478.12,250.79 L478.82,251.79 L479.53,252.78 L480.24,253.77 L480.94,254.77 L481.65,255.77 L482.35,256.77 L483.06,257.77 L483.77,258.77 L484.47,259.77 L485.18,260.77 L485.89,261.77 L486.59,262.78 L487.30,263.78 L488.01,264.79 L488.71,265.80 L489.42,266.80 L490.13,267.81 L490.83,268.82 L491.54,269.83 L492.25,270.85 L492.95,271.86 L493.66,272.87 L494.37,273.88 L495.07,274.90 L495.78,275.91 L496.49,276.93 L497.19,277.95 L497.90,278.96 L498.60,279.98 L499.31,281.00 L500.02,282.02 L500.72,283.04 L501.43,284.06 L502.14,285.08 L502.84,286.10 L503.55,287.12 L504.26,288.14 L504.96,289.16 L505.67,290.19 L506.38,291.21 L507.08,292.23 L507.79,293.26 L508.50,294.28 L509.20,295.31 L509.91,296.33 L510.62,297.36 L511.32,298.38 L512.03,299.41 L512.73,300.43 L513.44,301.46 L514.15,302.49 L514.85,303.51 L515.56,304.54 L516.27,305.57 L516.97,306.59 L517.68,307.62 L518.39,308.65 L519.09,309.67 L519.80,310.70" fill="none" stroke="#00ffff" stroke-width="3.8"/>
<path d="M96.60,196.20 L97.31,195.75 L98.01,195.30 L98.72,194.85 L99.43,194.40 L100.13,193.95 L100.84,193.50 L101.55,193.05 L102.25,192.60 L102.96,192.15 L103.67,191.70 L104.37,191.25 L105.08,190.80 L105.78,190.35 L106.49,189.90 L107.20,189.45 L107.90,189.01 L108.61,188.56 L109.32,188.11 L110.02,187.66 M126.98,176.92 L127.69,176.47 L128.39,176.03 L129.10,175.58 L129.81,175.14 L130.51,174.69 L131.22,174.25 L131.93,173.80 L132.63,173.36 L133.34,172.92 L134.05,172.47 L134.75,172.03 L135.46,171.59 L136.16,171.14 L136.87,170.70 L137.58,170.26 L138.28,169.82 L138.99,169.37 L139.70,168.93 M157.36,158.00 L158.07,157.57 L158.77,157.13 L159.48,156.70 L160.19,156.27 L160.89,155.84 L161.60,155.41 L162.31,154.98 L163.01,154.55 L163.72,154.12 L164.43,153.69 L165.13,153.26 L165.84,152.83 L166.54,152.41 L167.25,151.98 L167.96,151.55 L168.66,151.13 L169.37,150.70 L170.08,150.27 M187.74,139.81 L188.45,139.40 L189.15,138.99 L189.86,138.58 L190.57,138.17 L191.27,137.76 L191.98,137.35 L192.69,136.94 L193.39,136.53 L194.10,136.13 L194.81,135.72 L195.51,135.32 L196.22,134.91 L196.92,134.51 L197.63,134.11 L198.34,133.70 L199.04,133.30 L199.75,132.90 L200.46,132.50 M218.12,122.77 L218.83,122.40 L219.53,122.03 L220.24,121.66 L220.95,121.29 L221.65,120.92 L222.36,120.56 L223.07,120.20 L223.77,119.83 L224.48,119.48 L225.18,119.12 L225.89,118.76 L226.60,118.41 L227.30,118.06 L228.01,117.71 L228.72,117.36 L229.42,117.01 L230.13,116.67 L230.84,116.33 M248.50,108.61 L249.21,108.34 L249.91,108.07 L250.62,107.81 L251.33,107.55 L252.03,107.29 L252.74,107.03 L253.45,106.78 L254.15,106.53 L254.86,106.29 L255.56,106.05 L256.27,105.81 L256.98,105.58 L257.68,105.34 L258.39,105.12 L259.10,104.89 L259.80,104.67 L260.51,104.46 L261.22,104.25 M278.17,100.40 L278.88,100.29 L279.59,100.19 L280.29,100.10 L281.00,100.01 L281.71,99.92 L282.41,99.84 L283.12,99.77 L283.83,99.70 L284.53,99.63 L285.24,99.57 L285.94,99.51 L286.65,99.46 L287.36,99.42 L288.06,99.38 L288.77,99.35 L289.48,99.32 L290.18,99.29 L290.89,99.28 L291.60,99.26 M308.55,100.68 L309.26,100.82 L309.97,100.96 L310.67,101.11 L311.38,101.26 L312.09,101.42 L312.79,101.59 L313.50,101.76 L314.21,101.94 L314.91,102.13 L315.62,102.32 L316.32,102.51 L317.03,102.72 L317.74,102.93 L318.44,103.14 L319.15,103.36 L319.86,103.59 L320.56,103.82 L321.27,104.06 M338.93,111.90 L339.64,112.29 L340.35,112.68 L341.05,113.07 L341.76,113.48 L342.47,113.88 L343.17,114.29 L343.88,114.71 L344.59,115.13 L345.29,115.56 L346.00,115.99 L346.70,116.43 L347.41,116.87 L348.12,117.31 L348.82,117.77 L349.53,118.22 L350.24,118.69 L350.94,119.15 L351.65,119.62 M369.31,132.94 L370.02,133.53 L370.73,134.12 L371.43,134.72 L372.14,135.33 L372.85,135.93 L373.55,136.55 L374.26,137.16 L374.97,137.78 L375.67,138.41 L376.38,139.03 L377.08,139.67 L377.79,140.30 L378.50,140.94 L379.20,141.59 L379.91,142.23 L380.62,142.89 L381.32,143.54 L382.03,144.20 M398.99,161.14 L399.69,161.88 L400.40,162.64 L401.11,163.39 L401.81,164.15 L402.52,164.91 L403.23,165.68 L403.93,166.45 L404.64,167.22 L405.35,167.99 L406.05,168.77 L406.76,169.55 L407.46,170.33 L408.17,171.12 L408.88,171.91 L409.58,172.70 L410.29,173.49 L411.00,174.29 M425.83,191.68 L426.54,192.54 L427.25,193.39 L427.95,194.26 L428.66,195.12 L429.37,195.98 L430.07,196.85 L430.78,197.72 L431.49,198.60 L432.19,199.47 L432.90,200.35 L433.61,201.23 L434.31,202.11 L435.02,203.00 L435.73,203.88 M449.86,222.05 L450.56,222.98 L451.27,223.91 L451.97,224.84 L452.68,225.78 L453.39,226.71 L454.09,227.65 L454.80,228.59 L455.51,229.53 L456.21,230.48 L456.92,231.42 L457.63,232.37 L458.33,233.31 L459.04,234.26 M472.46,252.58 L473.17,253.56 L473.88,254.54 L474.58,255.52 L475.29,256.50 L476.00,257.48 L476.70,258.47 L477.41,259.45 L478.12,260.44 L478.82,261.43 L479.53,262.41 L480.24,263.40 L480.94,264.39 M493.66,282.37 L494.37,283.38 L495.07,284.38 L495.78,285.39 L496.49,286.40 L497.19,287.41 L497.90,288.42 L498.60,289.43 L499.31,290.44 L500.02,291.45 L500.72,292.46 L501.43,293.47 L502.14,294.48 L502.84,295.50 M514.85,312.77 L515.56,313.79 L516.27,314.81 L516.97,315.83 L517.68,316.84 L518.39,317.86 L519.09,318.88 L519.80,319.90" fill="none" stroke="#00ffff" stroke-width="3.8"/>
<rect x="91.40" y="119.40" width="10.4" height="10.4" fill="#ff0000"/>
<rect x="197.20" y="57.65" width="10.4" height="10.4" fill="#ff0000"/>
<rect x="302.90" y="26.50" width="10.4" height="10.4" fill="#ff0000"/>
<rect x="408.70" y="101.10" width="10.4" height="10.4" fill="#ff0000"/>
<rect x="514.60" y="243.00" width="10.4" height="10.4" fill="#ff0000"/>
<rect x="91.40" y="132.00" width="10.4" height="10.4" fill="#ff0000"/>
<rect x="197.20" y="69.90" width="10.4" height="10.4" fill="#ff0000"/>
<rect x="302.90" y="36.40" width="10.4" height="10.4" fill="#ff0000"/>
<rect x="408.70" y="113.20" width="10.4" height="10.4" fill="#ff0000"/>
<rect x="514.60" y="252.60" width="10.4" height="10.4" fill="#ff0000"/>
<circle cx="96.60" cy="152.20" r="5.6" fill="#00ff00"/>
<circle cx="202.40" cy="90.55" r="5.6" fill="#00ff00"/>
<circle cx="308.10" cy="59.70" r="5.6" fill="#00ff00"/>
<circle cx="413.90" cy="133.60" r="5.6" fill="#00ff00"/>
<circle cx="519.80" cy="288.40" r="5.6" fill="#00ff00"/>
<circle cx="96.60" cy="159.10" r="5.6" fill="#00ff00"/>
<circle cx="202.40" cy="97.15" r="5.6" fill="#00ff00"/>
<circle cx="308.10" cy="66.30" r="5.6" fill="#00ff00"/>
<circle cx="413.90" cy="142.90" r="5.6" fill="#00ff00"/>
<circle cx="519.80" cy="294.90" r="5.6" fill="#00ff00"/>
<path d="M96.60,178.43 L103.55,190.38 L89.65,190.38 Z" fill="#00ffff"/>
<path d="M202.40,116.73 L209.35,128.68 L195.45,128.68 Z" fill="#00ffff"/>
<path d="M308.10,85.53 L315.05,97.48 L301.15,97.48 Z" fill="#00ffff"/>
<path d="M413.90,160.03 L420.85,171.98 L406.95,171.98 Z" fill="#00ffff"/>
<path d="M519.80,302.73 L526.75,314.68 L512.85,314.68 Z" fill="#00ffff"/>
<path d="M96.60,188.23 L103.55,200.18 L89.65,200.18 Z" fill="#00ffff"/>
<path d="M202.40,123.43 L209.35,135.38 L195.45,135.38 Z" fill="#00ffff"/>
<path d="M308.10,92.63 L315.05,104.58 L301.15,104.58 Z" fill="#00ffff"/>
<path d="M413.90,169.63 L420.85,181.58 L406.95,181.58 Z" fill="#00ffff"/>
<path d="M519.80,311.93 L526.75,323.88 L512.85,323.88 Z" fill="#00ffff"/>
<g stroke="#000" fill="none">
<path d="M75.45,12.35 V355.15" stroke-width="2.9"/>
<path d="M74.00,353.7 H541.00" stroke-width="2.9"/>
<path d="M62.7,13.50 H75.45 M62.7,44.43 H75.45 M62.7,75.36 H75.45 M62.7,106.29 H75.45 M62.7,137.22 H75.45 M62.7,168.15 H75.45 M62.7,199.08 H75.45 M62.7,230.01 H75.45 M62.7,260.94 H75.45 M62.7,291.87 H75.45 M62.7,322.80 H75.45 M62.7,353.73 H75.45 M75.45,28.96 H81.8 M75.45,59.89 H81.8 M75.45,90.83 H81.8 M75.45,121.75 H81.8 M75.45,152.69 H81.8 M75.45,183.62 H81.8 M75.45,214.54 H81.8 M75.45,245.47 H81.8 M75.45,276.40 H81.8 M75.45,307.33 H81.8 M75.45,338.26 H81.8 M96.65,353.7 V366.8 M202.42,353.7 V366.8 M308.20,353.7 V366.8 M413.98,353.7 V366.8 M519.75,353.7 V366.8 M149.54,353.7 V347.3 M255.31,353.7 V347.3 M361.09,353.7 V347.3 M466.86,353.7 V347.3 " stroke-width="2.3"/>
</g>
<g font-family="'Liberation Serif', 'Times New Roman', serif" font-size="17.4" fill="#000">
<text x="53.8" y="18.75" text-anchor="end">40</text>
<text x="53.8" y="49.68" text-anchor="end">35</text>
<text x="53.8" y="80.61" text-anchor="end">30</text>
<text x="53.8" y="111.54" text-anchor="end">25</text>
<text x="53.8" y="142.47" text-anchor="end">20</text>
<text x="53.8" y="173.40" text-anchor="end">15</text>
<text x="53.8" y="204.33" text-anchor="end">10</text>
<text x="53.8" y="235.26" text-anchor="end">5</text>
<text x="53.8" y="266.19" text-anchor="end">0</text>
<text x="53.8" y="297.12" text-anchor="end">-5</text>
<text x="53.8" y="328.05" text-anchor="end">-10</text>
<text x="53.8" y="358.98" text-anchor="end">-15</text>
<text x="96.35" y="389.45" text-anchor="middle">-20</text>
<text x="202.12" y="389.45" text-anchor="middle">-15</text>
<text x="307.90" y="389.45" text-anchor="middle">-10</text>
<text x="413.68" y="389.45" text-anchor="middle">-5</text>
<text x="519.95" y="389.45" text-anchor="middle">0</text>
</g>
<g font-family="'Liberation Serif', 'Times New Roman', serif" font-weight="bold" font-size="22" fill="#000">
<text x="177.6" y="418.7" font-size="22.3">Optical Input Power (dBm)</text>
<text transform="translate(21.7,306.7) rotate(-90)" font-size="23">Conversion<tspan dx="-0.44"> Gain</tspan><tspan dx="1.4"> (dB)</tspan></text>
<path d="M137,189.20 H188.2" stroke="#ff0000" stroke-width="3.8" fill="none"/>
<text x="200" y="196.80" font-size="22.3" word-spacing="1.5">Simulated CG, Up1</text>
<path d="M137,218.05 H150.1 M167.5,218.05 H180.6" stroke="#ff0000" stroke-width="3.8" fill="none"/>
<text x="200.8" y="225.65" font-size="22.3" word-spacing="1.5"><tspan letter-spacing="0.13">Theoretical</tspan><tspan dx="-1.2"> CG, Up1</tspan></text>
<path d="M137,246.90 H188.2" stroke="#00ff00" stroke-width="3.8" fill="none"/>
<text x="200" y="254.50" font-size="22.3" word-spacing="1.5">Simulated CG, Up2</text>
<path d="M137,275.75 H150.1 M167.5,275.75 H180.6" stroke="#00ff00" stroke-width="3.8" fill="none"/>
<text x="200.8" y="283.35" font-size="22.3" word-spacing="1.5"><tspan letter-spacing="0.13">Theoretical</tspan><tspan dx="-1.2"> CG, Up2</tspan></text>
<path d="M137,304.60 H188.2" stroke="#00ffff" stroke-width="3.8" fill="none"/>
<text x="200" y="312.20" font-size="22.3" word-spacing="1.5">Simulated CG, Up3</text>
<path d="M137,333.45 H150.1 M167.5,333.45 H180.6" stroke="#00ffff" stroke-width="3.8" fill="none"/>
<text x="200.8" y="341.05" font-size="22.3" word-spacing="1.5"><tspan letter-spacing="0.13">Theoretical</tspan><tspan dx="-1.2"> CG, Up3</tspan></text>
</g>
</svg>
</body></html>
